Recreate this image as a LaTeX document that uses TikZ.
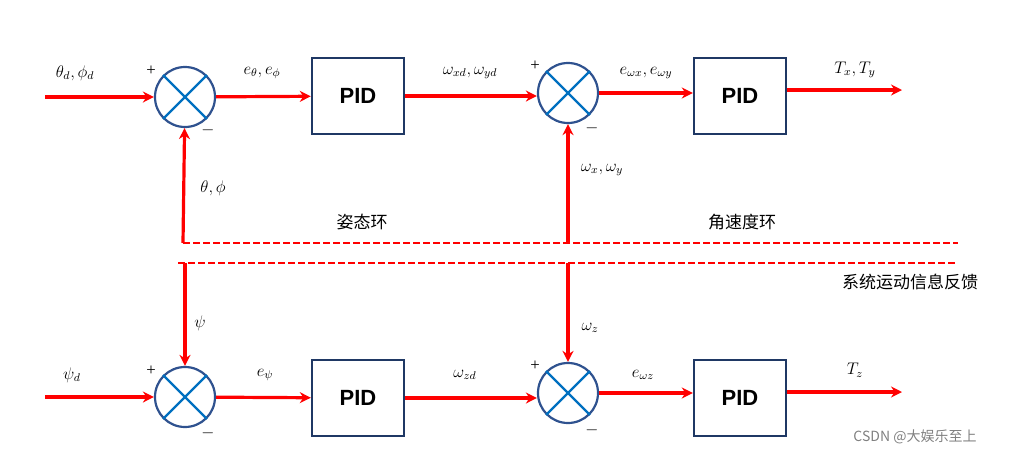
\documentclass[tikz,border=0pt]{standalone}
\usepackage{fontspec}
\setmainfont{Liberation Serif}
\newfontfamily\cjk{Noto Sans CJK SC}
\newfontfamily\sans{Liberation Sans}
\usetikzlibrary{arrows.meta}
\definecolor{sumc}{HTML}{2F528F}
\definecolor{xc}{HTML}{0070C0}
\definecolor{boxc}{HTML}{1F3864}
\tikzset{
 sum/.style={circle,draw=sumc,line width=2.2pt,fill=white,minimum size=60pt,inner sep=0pt},
 pid/.style={draw=boxc,line width=2.4pt,minimum width=92pt,minimum height=76pt,font=\sans\bfseries\fontsize{22}{22}\selectfont},
 sig/.style={red,line width=3.2pt,-{Stealth[length=11pt,width=11pt]}},
 fb/.style={red,line width=2.6pt,dash pattern=on 7pt off 3pt},
 lab/.style={font=\large,scale=1.4},
 cj/.style={font=\cjk\fontsize{17}{17}\selectfont}
}
\newcommand{\sumx}[1]{\draw[xc,line width=2.2pt] (#1.north east)--(#1.south west) (#1.north west)--(#1.south east);}
\begin{document}
\begin{tikzpicture}[x=1pt,y=-1pt]
\useasboundingbox (0,0) rectangle (1015,456);
% top row
\node[sum] (s1) at (185,97) {}; \sumx{s1}
\node[sum] (s2) at (568,93) {}; \sumx{s2}
\node[pid] (p1) at (358,96) {PID};
\node[pid] (p2) at (740,96) {PID};
\coordinate (in1) at (45,97);
\coordinate (out1) at (902,90);
\draw[sig] (in1) -- (s1);
\draw[sig] (s1) -- (p1);
\draw[sig] (p1) -- (s2.west |- p1);
\draw[sig] (s2) -- (p2.west |- s2);
\draw[sig] (p2.east |- out1) -- (out1);
\node[lab] at (75,73) {$\theta_d,\phi_d$};
\node[lab] at (262,73) {$e_\theta,e_\phi$};
\node[lab] at (470,73) {$\omega_{xd},\omega_{yd}$};
\node[lab] at (646,73) {$e_{\omega x},e_{\omega y}$};
\node[lab] at (855,70) {$T_x,T_y$};
\node[lab] at (151,71) {+}; \node[lab] at (208,130) {$-$};
\node[lab] at (535,66) {+}; \node[lab] at (592,128) {$-$};
% bottom row
\node[sum] (s3) at (185,397) {}; \sumx{s3}
\node[sum] (s4) at (568,393) {}; \sumx{s4}
\node[pid] (p3) at (358,398) {PID};
\node[pid] (p4) at (740,398) {PID};
\coordinate (in3) at (45,397);
\coordinate (out3) at (902,392);
\draw[sig] (in3) -- (s3);
\draw[sig] (s3) -- (p3);
\draw[sig] (p3) -- (s4.west |- p3);
\draw[sig] (s4) -- (p4.west |- s4);
\draw[sig] (p4.east |- out3) -- (out3);
\node[lab] at (72,375) {$\psi_d$};
\node[lab] at (265,375) {$e_\psi$};
\node[lab] at (465,375) {$\omega_{zd}$};
\node[lab] at (643,375) {$e_{\omega z}$};
\node[lab] at (855,370) {$T_z$};
\node[lab] at (151,371) {+}; \node[lab] at (208,433) {$-$};
\node[lab] at (535,366) {+}; \node[lab] at (592,430) {$-$};
% feedback
\coordinate (fa) at (183,243); \coordinate (fb) at (958,243);
\coordinate (fc) at (178,263); \coordinate (fd) at (958,263);
\draw[fb] (fa) -- (fb);
\draw[fb] (fc) -- (fd);
\draw[sig] (fa) -- (s1);
\draw[sig] (s2 |- fa) -- (s2);
\draw[sig] (s3 |- fc) -- (s3);
\draw[sig] (s4 |- fc) -- (s4);
\node[lab] at (213,188) {$\theta,\phi$};
\node[lab] at (602,170) {$\omega_x,\omega_y$};
\node[lab] at (200,323) {$\psi$};
\node[lab] at (590,328) {$\omega_z$};
\node[cj] at (362,222) {姿态环};
\node[cj] at (742,222) {角速度环};
\node[cj] at (910,282) {系统运动信息反馈};
\node[font=\cjk\fontsize{14}{14}\selectfont,text=gray] at (915,437) {CSDN @大娱乐至上};
\end{tikzpicture}
\end{document}
